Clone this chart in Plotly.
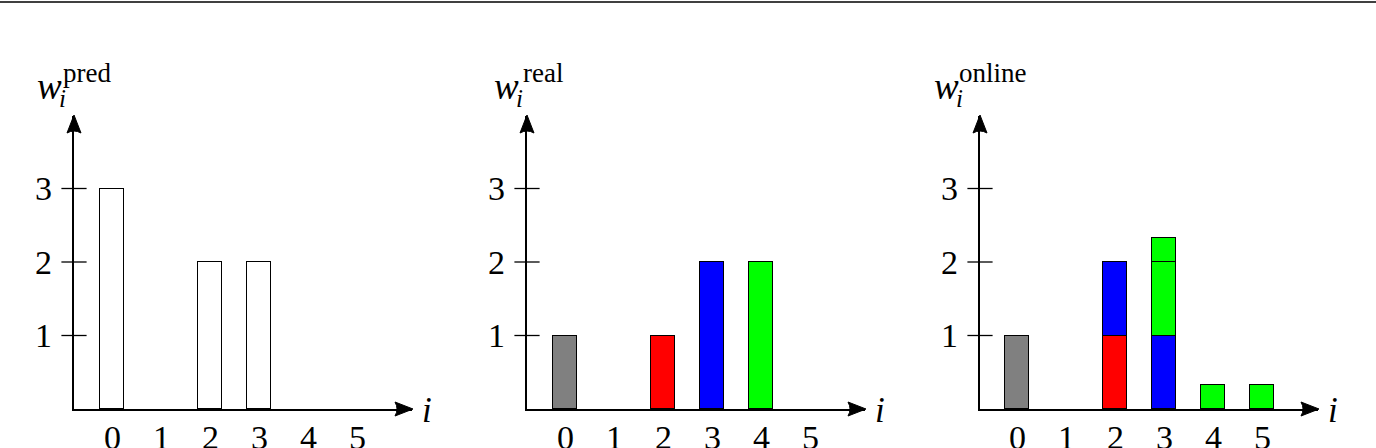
import plotly.graph_objects as go

W, H = 1376, 448

# data
categories = [0, 1, 2, 3, 4, 5]
y_ticks = [1, 2, 3]

pred = [3, None, 2, 2, None, None]

real_gray = [1, None, None, None, None, None]
real_red = [None, None, 1, None, None, None]
real_blue = [None, None, None, 2, None, None]
real_green = [None, None, None, None, 2, None]

online_gray = [1, None, None, None, None, None]
online_red = [None, None, 1, None, None, None]
online_blue = [None, None, 1, 1, None, None]
online_green = [None, None, None, 1, None, None]
online_green_part = [None, None, None, 0.333, 0.333, 0.333]

sup_labels = ["pred", "real", "online"]

GRAY, RED, BLUE, GREEN = "#808080", "#ff0000", "#0000ff", "#00ff00"
FONT = "Liberation Serif"

# panel geometry in pixels
axis_px = [74, 527, 980]      # vertical axis position
zero_px = [112, 565, 1017]    # centre of category 0
tip_px = [412, 865, 1318]     # tip of horizontal arrow
unit_x = 49.0
y0_px, ytip_px, unit_y = 409, 116, 73.5
xlabel_px = 437               # centre line of the category labels

# label positions (left edge of w, left of superscript)
w_left = [35, 492, 932]
sup_left = [61, 521, 957]

fig = go.Figure()

panels = [
    [(pred, "white")],
    [(real_gray, GRAY), (real_red, RED), (real_blue, BLUE), (real_green, GREEN)],
    [(online_gray, GRAY), (online_red, RED), (online_blue, BLUE),
     (online_green, GREEN), (online_green_part, GREEN)],
]

shapes = []
annotations = []

for k, series in enumerate(panels):
    sfx = "" if k == 0 else str(k + 1)
    xa, ya = "x" + sfx, "y" + sfx
    for vals, col in series:
        fig.add_trace(go.Bar(x=categories, y=vals, width=0.5, xaxis=xa, yaxis=ya,
                             marker=dict(color=col, line=dict(color="black", width=1.2)),
                             showlegend=False, hoverinfo="skip"))

    xmin = (axis_px[k] - zero_px[k]) / unit_x
    xmax = (tip_px[k] - zero_px[k]) / unit_x
    ymax = (y0_px - ytip_px) / unit_y

    # y tick marks crossing the axis
    fig.add_trace(go.Scatter(x=[xmin] * len(y_ticks), y=y_ticks, xaxis=xa, yaxis=ya,
                             mode="markers", cliponaxis=False, showlegend=False,
                             hoverinfo="skip",
                             marker=dict(symbol="line-ew", size=18,
                                         line=dict(color="black", width=1.3))))

    fig.update_layout(**{
        "xaxis" + sfx: dict(domain=[axis_px[k] / W, tip_px[k] / W], range=[xmin, xmax],
                            anchor=ya, showgrid=False, zeroline=False, automargin=False,
                            showline=True, linecolor="black", linewidth=2.2,
                            showticklabels=False, ticks=""),
        "yaxis" + sfx: dict(domain=[(H - y0_px) / H, (H - ytip_px) / H], range=[0, ymax],
                            anchor=xa, showgrid=False, zeroline=False, automargin=False,
                            showline=True, linecolor="black", linewidth=2.2,
                            tickvals=y_ticks, ticks="", ticklabelstandoff=13,
                            tickfont=dict(family=FONT, size=34, color="black")),
    })

    # category labels under the axis
    for c in categories:
        annotations.append(dict(xref=xa, yref="paper", x=c, y=1 - xlabel_px / H,
                                xanchor="center", yanchor="middle", showarrow=False,
                                text=str(c), font=dict(family=FONT, size=34, color="black")))

    # arrow heads
    shapes.append(dict(type="path", xref="paper", yref="paper", xsizemode="pixel",
                       ysizemode="pixel", xanchor=tip_px[k] / W, yanchor=1 - y0_px / H,
                       path="M1,0 L-17,7 Q-13,0 -17,-7 Z",
                       fillcolor="black", line=dict(color="black", width=1)))
    shapes.append(dict(type="path", xref="paper", yref="paper", xsizemode="pixel",
                       ysizemode="pixel", xanchor=axis_px[k] / W, yanchor=1 - ytip_px / H,
                       path="M0,1 L7,-17 Q0,-13 -7,-17 Z",
                       fillcolor="black", line=dict(color="black", width=1)))

    # axis labels
    annotations.append(dict(xref="paper", yref="paper", x=w_left[k] / W, y=1 - 86 / H,
                            xanchor="left", yanchor="middle", showarrow=False,
                            text="<i>w</i>", font=dict(family=FONT, size=37, color="black")))
    annotations.append(dict(xref="paper", yref="paper", x=sup_left[k] / W, y=1 - 73 / H,
                            xanchor="left", yanchor="middle", showarrow=False,
                            text=sup_labels[k], font=dict(family=FONT, size=27, color="black")))
    annotations.append(dict(xref="paper", yref="paper", x=(w_left[k] + 22) / W, y=1 - 98 / H,
                            xanchor="left", yanchor="middle", showarrow=False,
                            text="<i>i</i>", font=dict(family=FONT, size=25, color="black")))
    annotations.append(dict(xref="paper", yref="paper", x=(tip_px[k] + 15) / W, y=1 - 410 / H,
                            xanchor="center", yanchor="middle", showarrow=False,
                            text="<i>i</i>", font=dict(family=FONT, size=35, color="black")))

# rule across the top
shapes.append(dict(type="line", xref="paper", yref="paper", x0=0, x1=1,
                   y0=1 - 2 / H, y1=1 - 2 / H, line=dict(color="black", width=1.5)))

fig.update_layout(width=W, height=H, margin=dict(l=0, r=0, t=0, b=0),
                  barmode="stack", bargap=0, plot_bgcolor="white", paper_bgcolor="white",
                  shapes=shapes, annotations=annotations)

fig.write_html("out.html", config={"displayModeBar": False},
               post_script="document.body.style.margin = '0';")
